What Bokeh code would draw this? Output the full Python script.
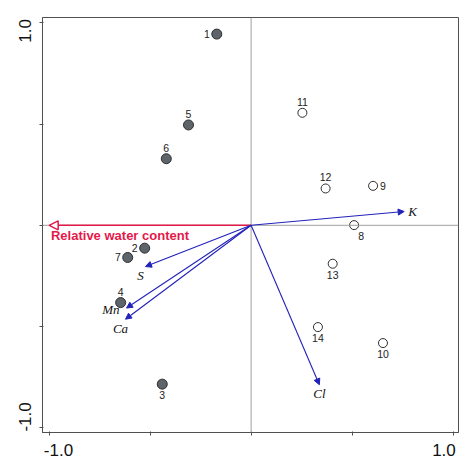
from bokeh.plotting import figure
from bokeh.models import (ColumnDataSource, Range1d, FixedTicker, Span, Arrow,
                          NormalHead, CustomJSTickFormatter)
from bokeh.core.properties import value
from bokeh.embed import file_html
from bokeh.resources import INLINE

# --- data -----------------------------------------------------------------
group_a_ids = ["1", "2", "3", "4", "5", "6", "7"]
group_a_x = [-0.170, -0.527, -0.440, -0.646, -0.310, -0.420, -0.611]
group_a_y = [0.945, -0.113, -0.785, -0.382, 0.496, 0.329, -0.159]
group_a_pos = ["left", "left", "below", "above", "above", "above", "left"]

group_b_ids = ["8", "9", "10", "11", "12", "13", "14"]
group_b_x = [0.510, 0.604, 0.653, 0.254, 0.369, 0.404, 0.331]
group_b_y = [0.001, 0.195, -0.582, 0.556, 0.182, -0.190, -0.503]
group_b_pos = ["belowright", "right", "below", "above", "above", "below", "below"]

env_names = ["K", "Cl", "S", "Mn", "Ca"]
env_x = [0.758, 0.338, -0.523, -0.617, -0.622]
env_y = [0.068, -0.788, -0.204, -0.409, -0.464]
env_pos = ["right", "below", "belowleft", "left", "belowleft"]

resp_name = "Relative water content"
resp_x = -1.0
resp_y = 0.0

axis_ticks = [-1.0, -0.5, 0.0, 0.5, 1.0]
axis_tick_labels = ["-1.0", "1.0"]
# label anchors are inset toward the frame corners, as in the reference
x_label_at = [-0.954, 0.955]
y_label_at = [-0.947, 0.961]

BLUE = "#2222bb"
RED = "#e3194a"
AXC = "#505050"

# --- figure ----------------------------------------------------------------
p = figure(width=474, height=467, output_backend="svg", toolbar_location=None,
           x_range=Range1d(-1.033, 1.027), y_range=Range1d(-1.024, 1.027),
           min_border_left=42, min_border_right=16, min_border_top=17,
           min_border_bottom=35)
p.background_fill_color = "white"
p.border_fill_color = "white"
p.outline_line_color = AXC
p.outline_line_width = 1
p.xgrid.visible = False
p.ygrid.visible = False

fmt_code = "return tick < 0 ? '%s' : '%s';" % tuple(axis_tick_labels)
for ax, lab_at in ((p.xaxis[0], x_label_at), (p.yaxis[0], y_label_at)):
    ax.ticker = FixedTicker(ticks=lab_at, minor_ticks=axis_ticks)
    ax.formatter = CustomJSTickFormatter(code=fmt_code)
    ax.major_label_text_font = "Liberation Sans"
    ax.major_label_text_font_size = "17px"
    ax.major_label_text_color = "#111111"
    ax.major_tick_line_color = None
    ax.major_tick_in = 0
    ax.major_tick_out = 0
    ax.minor_tick_in = 1
    ax.minor_tick_out = 3
    ax.minor_tick_line_color = AXC
    ax.axis_line_color = AXC
    ax.major_label_standoff = 8
p.yaxis[0].major_label_orientation = "vertical"

# zero lines
p.add_layout(Span(location=0, dimension="width", line_color="#a0a0a0", line_width=1))
p.add_layout(Span(location=0, dimension="height", line_color="#a0a0a0", line_width=1))

# response arrow (red)
p.add_layout(Arrow(end=NormalHead(size=9, fill_color="white", line_color=RED,
                                  line_width=1.5),
                   x_start=0, y_start=0, x_end=resp_x, y_end=resp_y,
                   line_color=RED, line_width=1.6))
p.text(x=[resp_x + 0.009], y=[resp_y - 0.049], text=[resp_name],
       text_font=value("Liberation Sans"), text_font_style="bold",
       text_font_size="13px", text_color=RED, text_align="left",
       text_baseline="middle")

# environmental arrows (blue)
for name, ex, ey in zip(env_names, env_x, env_y):
    p.add_layout(Arrow(end=NormalHead(size=6, fill_color=BLUE, line_color=BLUE,
                                      line_width=1),
                       x_start=0, y_start=0, x_end=ex, y_end=ey,
                       line_color=BLUE, line_width=1.1))

off = {
    "right": (4, 0, "left"),
    "left": (-7, 1, "right"),
    "below": (0, 9, "center"),
    "belowleft": (-5, 9, "center"),
}
env_src = ColumnDataSource(dict(
    x=env_x, y=env_y, t=env_names,
    xo=[off[k][0] for k in env_pos], yo=[off[k][1] for k in env_pos],
    al=[off[k][2] for k in env_pos]))
p.text(x="x", y="y", text="t", x_offset="xo", y_offset="yo", text_align="al",
       source=env_src, text_baseline="middle",
       text_font=value("Liberation Serif"), text_font_style="italic",
       text_font_size="13px", text_color="#111")

# sample points
pl = {
    "left": (-7, 0, "right"),
    "right": (7, 0, "left"),
    "above": (0, -11, "center"),
    "below": (0, 11, "center"),
    "belowright": (7, 11, "center"),
}

src_a = ColumnDataSource(dict(x=group_a_x, y=group_a_y, t=group_a_ids,
                              xo=[pl[k][0] for k in group_a_pos],
                              yo=[pl[k][1] for k in group_a_pos],
                              al=[pl[k][2] for k in group_a_pos]))
src_b = ColumnDataSource(dict(x=group_b_x, y=group_b_y, t=group_b_ids,
                              xo=[pl[k][0] for k in group_b_pos],
                              yo=[pl[k][1] for k in group_b_pos],
                              al=[pl[k][2] for k in group_b_pos]))

p.scatter(x="x", y="y", source=src_a, size=10, fill_color="#5d646a",
          line_color="#2e2e2e", line_width=1)
p.scatter(x="x", y="y", source=src_b, size=9, fill_color="white",
          line_color="#2e2e2e", line_width=1)

for src in (src_a, src_b):
    p.text(x="x", y="y", text="t", x_offset="xo", y_offset="yo", text_align="al",
           source=src, text_baseline="middle", text_font=value("Liberation Sans"),
           text_font_size="10.5px", text_color="#222")

open("out.html", "w").write(file_html(p, INLINE))
